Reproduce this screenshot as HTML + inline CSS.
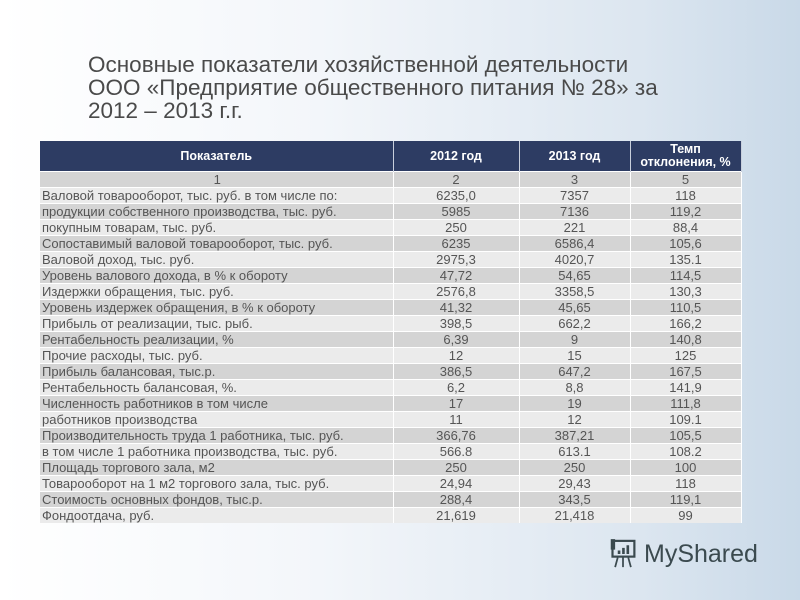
<!DOCTYPE html>
<html><head><meta charset="utf-8"><style>
body{margin:0;width:800px;height:600px;overflow:hidden;font-family:"Liberation Sans","DejaVu Sans",sans-serif;
background:linear-gradient(90deg,#ffffff 0%,#f3f6fa 40%,#dce6f0 80%,#c9d9e8 100%);position:relative}
#title{position:absolute;left:88px;top:53px;font-size:22.5px;line-height:23px;color:#4a4a4a;white-space:nowrap}
table{position:absolute;left:40px;top:141px;border-collapse:collapse;width:701px;table-layout:fixed}
th{background:#2d3c63;color:#fff;font-size:12.5px;font-weight:bold;height:30px;padding:0;border-right:1px solid #c8cfdc;line-height:13px}
td{height:15px;padding:0;font-size:13px;color:#555;text-align:center;border-right:1px solid #fff;border-top:1px solid #fff;line-height:12px;white-space:nowrap;overflow:hidden}
td:first-child{text-align:left;padding-left:2px}
tr.a td{background:#d4d4d4}tr.b td{background:#ebebeb}
tr.h td:first-child{text-align:center}
#logo{position:absolute;left:609px;top:538px;display:flex;align-items:center;color:#3b4a4f}
#logo span{font-size:25px;margin-left:7px}
</style></head><body>
<div id="title">Основные показатели хозяйственной деятельности<br>ООО «Предприятие общественного питания № 28» за<br>2012 – 2013 г.г.</div>
<table>
<colgroup><col style="width:353px"><col style="width:126px"><col style="width:111px"><col style="width:111px"></colgroup>
<tr><th>Показатель</th><th>2012 год</th><th>2013 год</th><th>Темп<br>отклонения, %</th></tr>
<tr class="a h"><td>1</td><td>2</td><td>3</td><td>5</td></tr>
<tr class="b"><td>Валовой товарооборот, тыс. руб. в том числе по:</td><td>6235,0</td><td>7357</td><td>118</td></tr>
<tr class="a"><td>продукции собственного производства, тыс. руб.</td><td>5985</td><td>7136</td><td>119,2</td></tr>
<tr class="b"><td>покупным товарам, тыс. руб.</td><td>250</td><td>221</td><td>88,4</td></tr>
<tr class="a"><td>Сопоставимый валовой товарооборот, тыс. руб.</td><td>6235</td><td>6586,4</td><td>105,6</td></tr>
<tr class="b"><td>Валовой доход, тыс. руб.</td><td>2975,3</td><td>4020,7</td><td>135.1</td></tr>
<tr class="a"><td>Уровень валового дохода, в % к обороту</td><td>47,72</td><td>54,65</td><td>114,5</td></tr>
<tr class="b"><td>Издержки обращения, тыс. руб.</td><td>2576,8</td><td>3358,5</td><td>130,3</td></tr>
<tr class="a"><td>Уровень издержек обращения, в % к обороту</td><td>41,32</td><td>45,65</td><td>110,5</td></tr>
<tr class="b"><td>Прибыль от реализации, тыс. рыб.</td><td>398,5</td><td>662,2</td><td>166,2</td></tr>
<tr class="a"><td>Рентабельность реализации, %</td><td>6,39</td><td>9</td><td>140,8</td></tr>
<tr class="b"><td>Прочие расходы, тыс. руб.</td><td>12</td><td>15</td><td>125</td></tr>
<tr class="a"><td>Прибыль балансовая, тыс.р.</td><td>386,5</td><td>647,2</td><td>167,5</td></tr>
<tr class="b"><td>Рентабельность балансовая, %.</td><td>6,2</td><td>8,8</td><td>141,9</td></tr>
<tr class="a"><td>Численность работников в том числе</td><td>17</td><td>19</td><td>111,8</td></tr>
<tr class="b"><td>работников производства</td><td>11</td><td>12</td><td>109.1</td></tr>
<tr class="a"><td>Производительность труда 1 работника, тыс. руб.</td><td>366,76</td><td>387,21</td><td>105,5</td></tr>
<tr class="b"><td>в том числе 1 работника производства, тыс. руб.</td><td>566.8</td><td>613.1</td><td>108.2</td></tr>
<tr class="a"><td>Площадь торгового зала, м2</td><td>250</td><td>250</td><td>100</td></tr>
<tr class="b"><td>Товарооборот на 1 м2 торгового зала, тыс. руб.</td><td>24,94</td><td>29,43</td><td>118</td></tr>
<tr class="a"><td>Стоимость основных фондов, тыс.р.</td><td>288,4</td><td>343,5</td><td>119,1</td></tr>
<tr class="b"><td>Фондоотдача, руб.</td><td>21,619</td><td>21,418</td><td>99</td></tr>
</table>
<div id="logo">
<svg width="28" height="32" viewBox="0 0 32 36"><rect x="4" y="3" width="25" height="18" fill="none" stroke="#3b4a4f" stroke-width="2.5"/><rect x="2" y="1" width="5" height="12" fill="#3b4a4f"/><rect x="10" y="14" width="3" height="4" fill="#3b4a4f"/><rect x="15" y="11" width="3" height="7" fill="#3b4a4f"/><rect x="20" y="8" width="3" height="10" fill="#3b4a4f"/><path d="M10 22 L7 33 M16 22 V33 M22 22 L25 33" stroke="#3b4a4f" stroke-width="2"/></svg>
<span>MyShared</span></div>
</body></html>
